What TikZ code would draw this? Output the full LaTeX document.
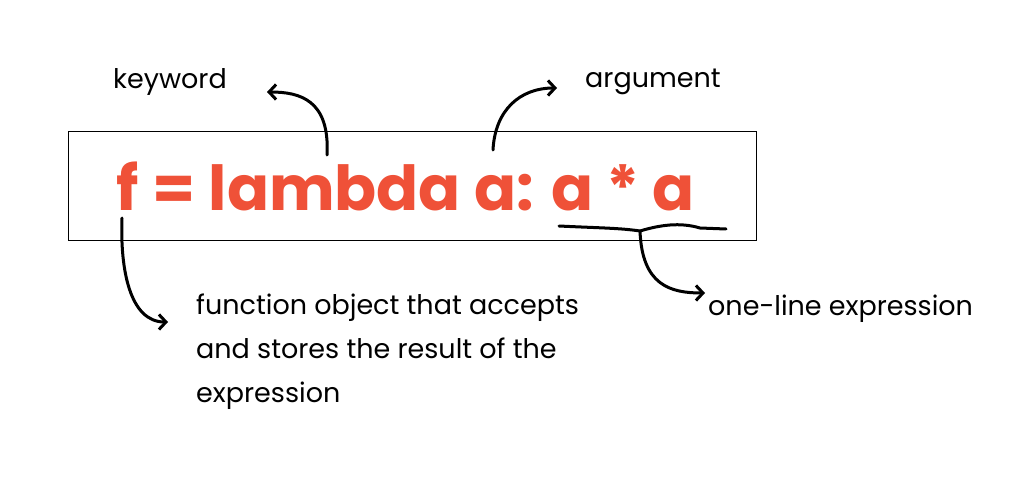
\documentclass[tikz,border=0pt]{standalone}
\usepackage{fontspec}
\usetikzlibrary{arrows.meta}
\setmainfont{Poppins}
\definecolor{lred}{HTML}{EF5138}
\begin{document}
\begin{tikzpicture}[x=1pt,y=-1pt,
  lbl/.style={anchor=west,inner sep=0pt,font=\fontsize{27}{44}\selectfont},
  arr/.style={line width=3pt,line cap=round,-{Straight Barb[length=7pt,width=15pt,line width=3pt]}}]
\useasboundingbox (0,0) rectangle (1020,484);
\node[draw,line width=1pt,minimum width=688pt,minimum height=108pt,inner sep=0pt] (box) at (412,186) {};
\node[text=lred,font=\fontsize{62}{66}\selectfont\bfseries] (code) at (406,186) {f = lambda a: a * a};
\node[lbl] (kw) at (113,82) {keyword};
\node[lbl] (arg) at (585,82) {argument};
\node[lbl] (ole) at (708,309) {one-line expression};
\node[lbl,align=left,anchor=north west] (fo) at (196,294) {function object that accepts\\and stores the result of the\\expression};
\coordinate (k0) at (327,155); \coordinate (a0) at (493,150);
\coordinate (f0) at (122,218); \coordinate (u0) at (640,231);
\draw[arr] (k0) .. controls (330,100) and (300,92) .. (267,92);
\draw[arr] (a0) .. controls (495,110) and (520,88) .. (557,88);
\draw[arr] (f0) .. controls (120,270) and (130,322) .. (168,322);
\draw[line width=3pt,line cap=round] (559,226) .. controls (600,228) and (620,228) .. (640,231) .. controls (660,225) and (680,222) .. (700,228) -- (726,229);
\draw[arr] (u0) .. controls (642,285) and (670,293) .. (705,293);
\end{tikzpicture}
\end{document}
